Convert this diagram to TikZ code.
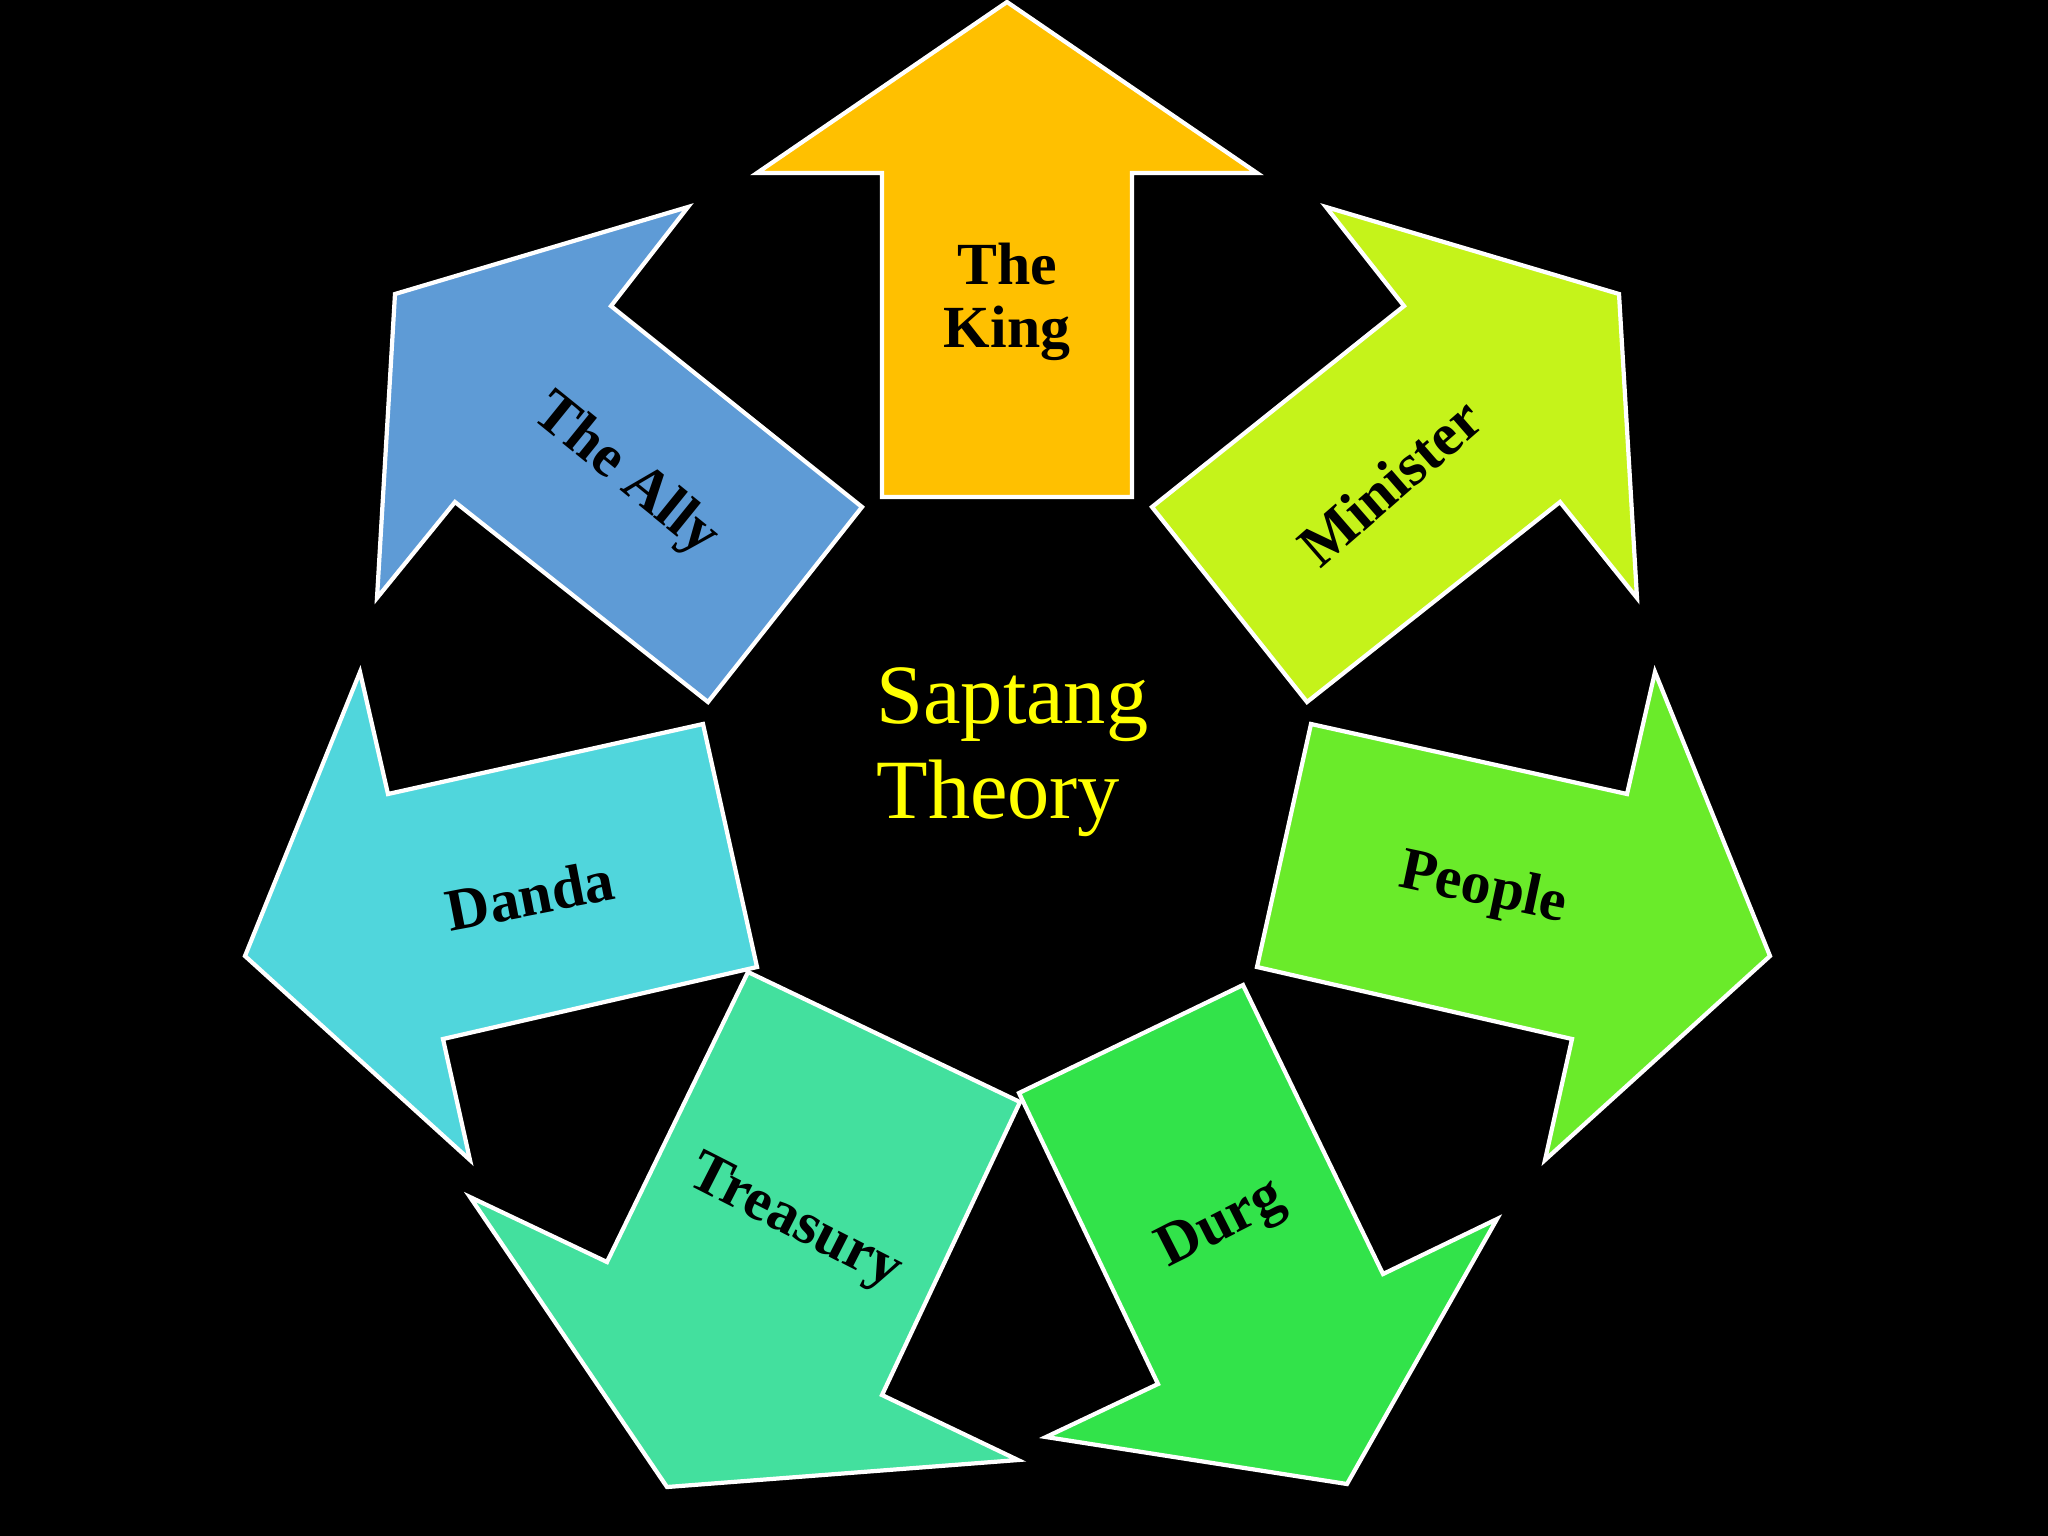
\documentclass[tikz,border=0pt]{standalone}
\usepackage{fontspec}
\setmainfont{Liberation Serif}
\usetikzlibrary{positioning}
\definecolor{kingorange}{RGB}{255,192,0}
\definecolor{ministerlime}{RGB}{197,243,26}
\definecolor{peoplegreen}{RGB}{106,235,42}
\definecolor{durggreen}{RGB}{50,227,74}
\definecolor{treasurysea}{RGB}{67,224,158}
\definecolor{dandacyan}{RGB}{80,214,220}
\definecolor{allyblue}{RGB}{94,155,214}
\definecolor{titleyellow}{RGB}{255,255,0}

\begin{document}
\begin{tikzpicture}[x=0.01cm,y=-0.01cm,
    limb/.style={draw=white,line width=1.2pt,line join=miter},
    tag/.style={font=\bfseries\fontsize{17}{18}\selectfont,text=black,align=center,inner sep=1pt}]

    \fill[black] (0,0) rectangle (2048,1536);
    \useasboundingbox (0,0) rectangle (2048,1536);

    % the seven limbs
    \filldraw[limb,fill=kingorange] (1007,2) -- (1257,173) -- (1132,173) -- (1132,497) -- (882,497) -- (882,173) -- (757,173) -- cycle;
    \filldraw[limb,fill=ministerlime] (1326,207) -- (1619,294) -- (1637,598) -- (1560,502) -- (1307,702) -- (1152,507) -- (1404,306) -- cycle;
    \filldraw[limb,fill=peoplegreen] (1311,724) -- (1627,794) -- (1655,672) -- (1770,956) -- (1545,1160) -- (1572,1039) -- (1257,967) -- cycle;
    \filldraw[limb,fill=durggreen] (1243,985) -- (1383,1274) -- (1497,1219) -- (1347,1484) -- (1046,1437) -- (1158,1384) -- (1019,1093) -- cycle;
    \filldraw[limb,fill=treasurysea] (748,972) -- (1020,1102) -- (882,1395) -- (1018,1460) -- (667,1487) -- (470,1197) -- (607,1262) -- cycle;
    \filldraw[limb,fill=dandacyan] (703,724) -- (757,967) -- (443,1039) -- (470,1160) -- (245,956) -- (360,672) -- (388,794) -- cycle;
    \filldraw[limb,fill=allyblue] (688,207) -- (611,306) -- (862,507) -- (708,702) -- (455,502) -- (377,598) -- (395,294) -- cycle;

    \node[tag] (king) at (1007,302) {The\\King};
    \node[tag,rotate=41] (minister) at (1390,482) {Minister};
    \node[tag,rotate=-12] (people) at (1483,890) {People};
    \node[tag,rotate=27] (durg) at (1222,1226) {Durg};
    \node[tag,rotate=-27] (treasury) at (794,1224) {Treasury};
    \node[tag,rotate=11] (danda) at (530,895) {Danda};
    \node[tag,rotate=-39] (ally) at (625,476) {The Ally};

    \node[anchor=west,align=left,text=titleyellow,font=\fontsize{24}{27}\selectfont] (title) at (864,752) {Saptang\\Theory};

\end{tikzpicture}
\end{document}
